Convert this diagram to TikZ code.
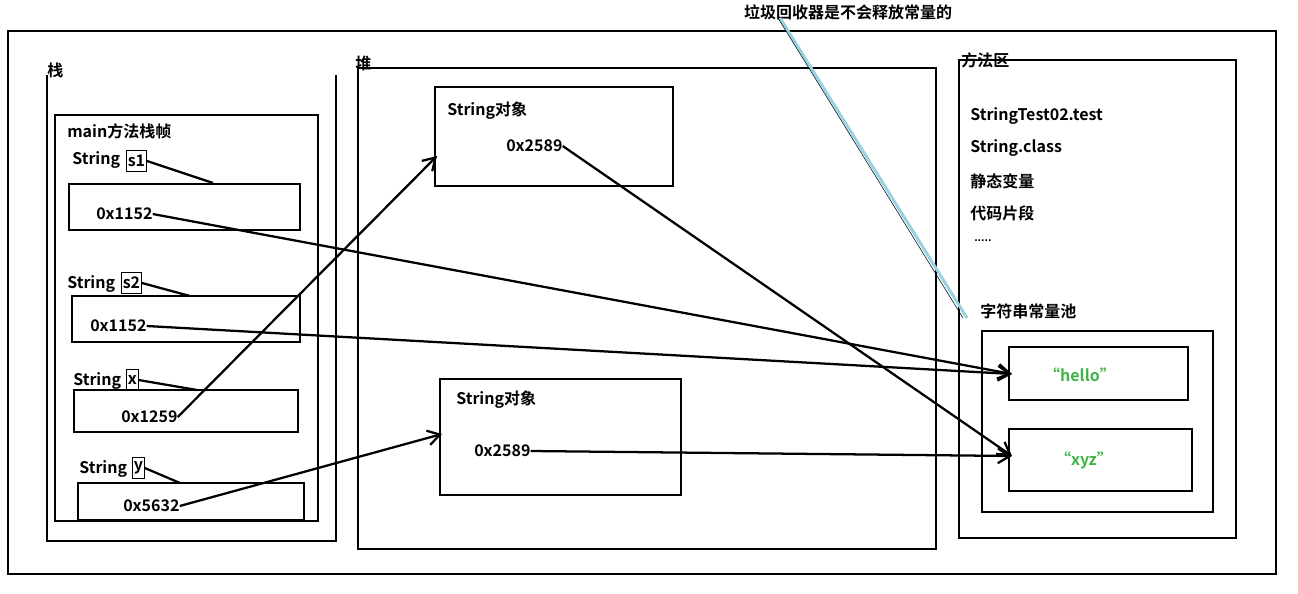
\documentclass[tikz,border=0pt]{standalone}
\usepackage{fontspec}
\setmainfont{Noto Sans CJK SC Bold}
\usetikzlibrary{arrows.meta}
\begin{document}
\begin{tikzpicture}[x=0.75pt,y=-0.75pt,
  bx/.style={draw,line width=2.2pt},
  nm/.style={draw,line width=0.7pt,inner xsep=1pt,inner ysep=0pt,minimum height=16pt,anchor=west,font=\fontsize{12}{14}\selectfont},
  lbl/.style={anchor=west,inner sep=0pt,font=\fontsize{12}{14}\selectfont},
  ln/.style={line width=1.7pt},
  arr/.style={line width=1.7pt,-{Straight Barb[length=9pt,width=11pt]}}]
\useasboundingbox (0,0) rectangle (1298,593);
\draw[bx] (8,31) rectangle (1276,574);
% stack
\draw[bx] (47,75) -- (47,541) -- (336,541) -- (336,75);
\node[lbl] (stk) at (47,70) {栈};
\draw[bx] (55,115) rectangle (318,521);
\node[lbl] (mf) at (67,131) {main方法栈帧};
\draw[bx] (69,184) rectangle (300,230);
\draw[bx] (72,296) rectangle (300,342);
\draw[bx] (74,390) rectangle (298,432);
\draw[bx] (78,483) rectangle (304,520);
\node[lbl] (t1) at (72,160) {String};
\node[lbl] (t2) at (67,284) {String};
\node[lbl] (t3) at (73,381) {String};
\node[lbl] (t4) at (79,469) {String};
\node[nm] (n1) at (126,161) {s1};
\node[nm] (n2) at (121,283) {s2};
\node[nm] (n3) at (126,380) {x};
\node[nm] (n4) at (132,468) {y};
\coordinate (c1) at (213,183); \coordinate (c2) at (190,296);
\coordinate (c3) at (197,390); \coordinate (c4) at (180,483);
\draw[ln] (n1.east) -- (c1); \draw[ln] (n2.east) -- (c2);
\draw[ln] (n3.east) -- (c3); \draw[ln] (n4.east) -- (c4);
\node[lbl] (v1) at (96,214) {0x1152};
\node[lbl] (v2) at (90,326) {0x1152};
\node[lbl] (v3) at (121,417) {0x1259};
\node[lbl] (v4) at (123,506) {0x5632};
% heap
\draw[bx] (358,68) rectangle (936,549);
\node[lbl] (hp) at (355,63) {堆};
\draw[bx] (435,87) rectangle (673,186);
\node[lbl] (o1) at (447,111) {String对象};
\node[lbl] (a1) at (506,146) {0x2589};
\draw[bx] (440,379) rectangle (681,495);
\node[lbl] (o2) at (456,400) {String对象};
\node[lbl] (a2) at (474,451) {0x2589};
% method area
\draw[bx] (959,60) rectangle (1236,538);
\node[lbl] (ma) at (961,60) {方法区};
\node[lbl] (m1) at (970,116) {StringTest02.test};
\node[lbl] (m2) at (970,148) {String.class};
\node[lbl] (m3) at (970,181) {静态变量};
\node[lbl] (m4) at (970,213) {代码片段};
\node[lbl] (m5) at (974,241) {\fontsize{8}{9}\selectfont .....};
\node[lbl] (pl) at (980,311) {字符串常量池};
\draw[bx] (982,331) rectangle (1213,512);
\draw[bx] (1009,347) rectangle (1188,400);
\draw[bx] (1009,429) rectangle (1192,491);
\definecolor{grn}{RGB}{60,180,70}
\node[lbl,text=grn,anchor=center] (hello) at (1080,375) {“hello”};
\node[lbl,text=grn,anchor=center] (xyz) at (1084,460) {“xyz”};
\coordinate (hl) at (1012,374); \coordinate (xl) at (1012,456);
\draw[arr] (v1.east) -- (hl);
\draw[arr] (v2.east) -- (hl);
\draw[arr] (v3.east) -- (437,156);
\draw[arr] (v4.east) -- (442,434);
\draw[arr] (a1.east) -- (xl);
\draw[arr] (a2.east) -- (xl);
% note
\node[lbl,anchor=center] (note) at (848,12) {垃圾回收器是不会释放常量的};
\definecolor{lb}{RGB}{150,210,225}
\coordinate (ne) at (967,318);
\draw[lb,line width=2.2pt] (780,18) -- (ne);
\draw[line width=0.4pt] (778,18) -- (963,318);
\end{tikzpicture}
\end{document}
